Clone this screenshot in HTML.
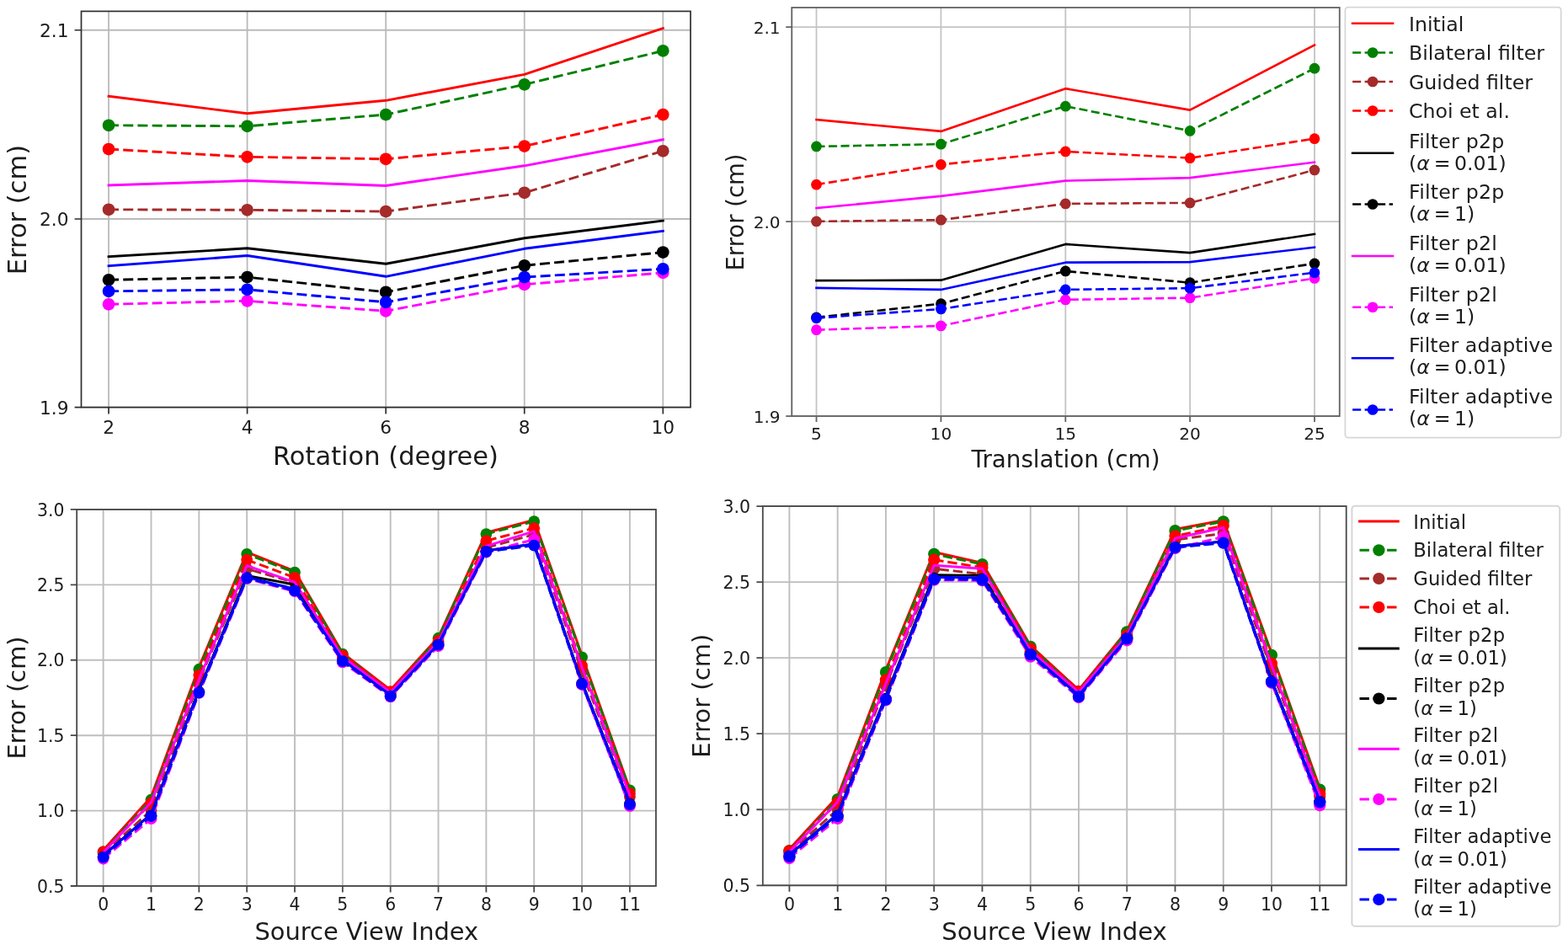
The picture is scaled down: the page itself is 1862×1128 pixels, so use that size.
<!DOCTYPE html>
<html lang="en">
<head>
<meta charset="utf-8">
<title>Error plots</title>
<style>
html,body{margin:0;padding:0;background:#fff;}
body{width:1862px;height:1128px;overflow:hidden;}
svg{display:block;font-family:"DejaVu Sans","Liberation Sans",sans-serif;}
</style>
</head>
<body>
<svg width="1862" height="1128" viewBox="0 0 1862 1128" role="img" aria-label="Error plots for rotation, translation and source view index">
<rect width="1862" height="1128" fill="#fff"/>
<g class="panel">
<path d="M129.05 13.4V483.6M293.6 13.4V483.6M458.2 13.4V483.6M622.75 13.4V483.6M787.3 13.4V483.6M96.5 35.75H820M96.5 260H820M96.5 483.6H820" stroke="#bababa" stroke-width="1.8" fill="none"/>
<path d="M129.05 483.6v7.9M293.6 483.6v7.9M458.2 483.6v7.9M622.75 483.6v7.9M787.3 483.6v7.9M96.5 35.75h-7.9M96.5 260h-7.9M96.5 483.6h-7.9" stroke="#2e2e2e" stroke-width="1.7" fill="none"/>
<g fill="none" stroke-width="2.9" stroke-linejoin="round">
<path d="M129.05 114.3L293.6 134.8L458.2 119.3L622.75 88.3L787.3 33.55" stroke="#ff0000" stroke-linecap="square"/>
<path d="M129.05 148.8L293.6 149.8L458.2 136.05L622.75 100.3L787.3 60.3" stroke="#008000" stroke-dasharray="12 5.2"/>
<g fill="#008000" stroke="none"><circle cx="129.05" cy="148.8" r="7.35"/><circle cx="293.6" cy="149.8" r="7.35"/><circle cx="458.2" cy="136.05" r="7.35"/><circle cx="622.75" cy="100.3" r="7.35"/><circle cx="787.3" cy="60.3" r="7.35"/></g>
<path d="M129.05 248.8L293.6 249.3L458.2 251.05L622.75 228.8L787.3 179.3" stroke="#a52a2a" stroke-dasharray="12 5.2"/>
<g fill="#a52a2a" stroke="none"><circle cx="129.05" cy="248.8" r="7.35"/><circle cx="293.6" cy="249.3" r="7.35"/><circle cx="458.2" cy="251.05" r="7.35"/><circle cx="622.75" cy="228.8" r="7.35"/><circle cx="787.3" cy="179.3" r="7.35"/></g>
<path d="M129.05 177.05L293.6 186.3L458.2 188.8L622.75 173.55L787.3 136.05" stroke="#ff0000" stroke-dasharray="12 5.2"/>
<g fill="#ff0000" stroke="none"><circle cx="129.05" cy="177.05" r="7.35"/><circle cx="293.6" cy="186.3" r="7.35"/><circle cx="458.2" cy="188.8" r="7.35"/><circle cx="622.75" cy="173.55" r="7.35"/><circle cx="787.3" cy="136.05" r="7.35"/></g>
<path d="M129.05 304.8L293.6 294.8L458.2 313.3L622.75 282.8L787.3 262.05" stroke="#000000" stroke-linecap="square"/>
<path d="M129.05 332.3L293.6 329.05L458.2 346.8L622.75 315.3L787.3 299.55" stroke="#000000" stroke-dasharray="12 5.2"/>
<g fill="#000000" stroke="none"><circle cx="129.05" cy="332.3" r="7.35"/><circle cx="293.6" cy="329.05" r="7.35"/><circle cx="458.2" cy="346.8" r="7.35"/><circle cx="622.75" cy="315.3" r="7.35"/><circle cx="787.3" cy="299.55" r="7.35"/></g>
<path d="M129.05 220.05L293.6 214.55L458.2 220.55L622.75 196.8L787.3 165.8" stroke="#ff00ff" stroke-linecap="square"/>
<path d="M129.05 361.3L293.6 357.3L458.2 369.3L622.75 337.8L787.3 323.8" stroke="#ff00ff" stroke-dasharray="12 5.2"/>
<g fill="#ff00ff" stroke="none"><circle cx="129.05" cy="361.3" r="7.35"/><circle cx="293.6" cy="357.3" r="7.35"/><circle cx="458.2" cy="369.3" r="7.35"/><circle cx="622.75" cy="337.8" r="7.35"/><circle cx="787.3" cy="323.8" r="7.35"/></g>
<path d="M129.05 315.8L293.6 303.55L458.2 328.3L622.75 295.3L787.3 274.3" stroke="#0000ff" stroke-linecap="square"/>
<path d="M129.05 345.8L293.6 343.8L458.2 358.8L622.75 329.05L787.3 319.3" stroke="#0000ff" stroke-dasharray="12 5.2"/>
<g fill="#0000ff" stroke="none"><circle cx="129.05" cy="345.8" r="7.35"/><circle cx="293.6" cy="343.8" r="7.35"/><circle cx="458.2" cy="358.8" r="7.35"/><circle cx="622.75" cy="329.05" r="7.35"/><circle cx="787.3" cy="319.3" r="7.35"/></g>
</g>
<rect x="96.5" y="13.4" width="723.5" height="470.2" fill="none" stroke="#2e2e2e" stroke-width="1.7"/>
<g font-size="21.7" fill="#1c1c1c">
<text x="129.05" y="515.4" text-anchor="middle">2</text>
<text x="293.6" y="515.4" text-anchor="middle">4</text>
<text x="458.2" y="515.4" text-anchor="middle">6</text>
<text x="622.75" y="515.4" text-anchor="middle">8</text>
<text x="787.3" y="515.4" text-anchor="middle">10</text>
<text x="81.5" y="43.85" text-anchor="end">2.1</text>
<text x="81.5" y="268.1" text-anchor="end">2.0</text>
<text x="81.5" y="491.7" text-anchor="end">1.9</text>
</g>
<text x="458" y="551.5" font-size="30.5" text-anchor="middle" fill="#1c1c1c">Rotation (degree)</text>
<text transform="translate(31 249.1) rotate(-90)" font-size="30.5" text-anchor="middle" fill="#1c1c1c">Error (cm)</text>
</g>
<g class="panel">
<path d="M969.5 9V494.1M1117.4 9V494.1M1265.3 9V494.1M1413.1 9V494.1M1561 9V494.1M940.25 32.2H1590.75M940.25 263.1H1590.75M940.25 494.1H1590.75" stroke="#c4c4c4" stroke-width="1.8" fill="none"/>
<path d="M969.5 494.1v7M1117.4 494.1v7M1265.3 494.1v7M1413.1 494.1v7M1561 494.1v7M940.25 32.2h-7M940.25 263.1h-7M940.25 494.1h-7" stroke="#626262" stroke-width="1.8" fill="none"/>
<g fill="none" stroke-width="2.6" stroke-linejoin="round">
<path d="M969.5 142.15L1117.4 155.9L1265.3 105.15L1413.1 130.65L1561 53.4" stroke="#ff0000" stroke-linecap="square"/>
<path d="M969.5 173.9L1117.4 171.15L1265.3 126.15L1413.1 155.4L1561 81.15" stroke="#008000" stroke-dasharray="10.1 4.4"/>
<g fill="#008000" stroke="none"><circle cx="969.5" cy="173.9" r="6.35"/><circle cx="1117.4" cy="171.15" r="6.35"/><circle cx="1265.3" cy="126.15" r="6.35"/><circle cx="1413.1" cy="155.4" r="6.35"/><circle cx="1561" cy="81.15" r="6.35"/></g>
<path d="M969.5 262.9L1117.4 261.15L1265.3 241.9L1413.1 240.9L1561 201.9" stroke="#a52a2a" stroke-dasharray="10.1 4.4"/>
<g fill="#a52a2a" stroke="none"><circle cx="969.5" cy="262.9" r="6.35"/><circle cx="1117.4" cy="261.15" r="6.35"/><circle cx="1265.3" cy="241.9" r="6.35"/><circle cx="1413.1" cy="240.9" r="6.35"/><circle cx="1561" cy="201.9" r="6.35"/></g>
<path d="M969.5 219.15L1117.4 195.4L1265.3 179.9L1413.1 187.65L1561 164.65" stroke="#ff0000" stroke-dasharray="10.1 4.4"/>
<g fill="#ff0000" stroke="none"><circle cx="969.5" cy="219.15" r="6.35"/><circle cx="1117.4" cy="195.4" r="6.35"/><circle cx="1265.3" cy="179.9" r="6.35"/><circle cx="1413.1" cy="187.65" r="6.35"/><circle cx="1561" cy="164.65" r="6.35"/></g>
<path d="M969.5 333.15L1117.4 332.65L1265.3 289.9L1413.1 300.15L1561 277.9" stroke="#000000" stroke-linecap="square"/>
<path d="M969.5 376.9L1117.4 360.65L1265.3 321.9L1413.1 335.65L1561 312.9" stroke="#000000" stroke-dasharray="10.1 4.4"/>
<g fill="#000000" stroke="none"><circle cx="969.5" cy="376.9" r="6.35"/><circle cx="1117.4" cy="360.65" r="6.35"/><circle cx="1265.3" cy="321.9" r="6.35"/><circle cx="1413.1" cy="335.65" r="6.35"/><circle cx="1561" cy="312.9" r="6.35"/></g>
<path d="M969.5 247.15L1117.4 232.9L1265.3 214.65L1413.1 211.15L1561 192.65" stroke="#ff00ff" stroke-linecap="square"/>
<path d="M969.5 391.65L1117.4 386.9L1265.3 355.9L1413.1 353.65L1561 330.4" stroke="#ff00ff" stroke-dasharray="10.1 4.4"/>
<g fill="#ff00ff" stroke="none"><circle cx="969.5" cy="391.65" r="6.35"/><circle cx="1117.4" cy="386.9" r="6.35"/><circle cx="1265.3" cy="355.9" r="6.35"/><circle cx="1413.1" cy="353.65" r="6.35"/><circle cx="1561" cy="330.4" r="6.35"/></g>
<path d="M969.5 341.9L1117.4 343.9L1265.3 311.65L1413.1 311.15L1561 293.65" stroke="#0000ff" stroke-linecap="square"/>
<path d="M969.5 377.65L1117.4 366.9L1265.3 343.9L1413.1 342.15L1561 323.65" stroke="#0000ff" stroke-dasharray="10.1 4.4"/>
<g fill="#0000ff" stroke="none"><circle cx="969.5" cy="377.65" r="6.35"/><circle cx="1117.4" cy="366.9" r="6.35"/><circle cx="1265.3" cy="343.9" r="6.35"/><circle cx="1413.1" cy="342.15" r="6.35"/><circle cx="1561" cy="323.65" r="6.35"/></g>
</g>
<rect x="940.25" y="9" width="650.5" height="485.1" fill="none" stroke="#626262" stroke-width="1.8"/>
<g font-size="20.1" fill="#1c1c1c">
<text x="969.5" y="522.4" text-anchor="middle">5</text>
<text x="1117.4" y="522.4" text-anchor="middle">10</text>
<text x="1265.3" y="522.4" text-anchor="middle">15</text>
<text x="1413.1" y="522.4" text-anchor="middle">20</text>
<text x="1561" y="522.4" text-anchor="middle">25</text>
<text x="926.6" y="39.7" text-anchor="end">2.1</text>
<text x="926.6" y="270.6" text-anchor="end">2.0</text>
<text x="926.6" y="501.6" text-anchor="end">1.9</text>
</g>
<text x="1265.5" y="554.8" font-size="27.75" text-anchor="middle" fill="#1c1c1c">Translation (cm)</text>
<text transform="translate(883 252) rotate(-90)" font-size="27.5" text-anchor="middle" fill="#1c1c1c">Error (cm)</text>
</g>
<g class="panel">
<path d="M122.65 604.95V1052M179.49 604.95V1052M236.33 604.95V1052M293.17 604.95V1052M350.01 604.95V1052M406.85 604.95V1052M463.69 604.95V1052M520.53 604.95V1052M577.37 604.95V1052M634.21 604.95V1052M691.05 604.95V1052M747.89 604.95V1052M91.2 1052H778.95M91.2 962.59H778.95M91.2 873.18H778.95M91.2 783.77H778.95M91.2 694.36H778.95M91.2 604.95H778.95" stroke="#bebebe" stroke-width="1.9" fill="none"/>
<path d="M122.65 1052v7.4M179.49 1052v7.4M236.33 1052v7.4M293.17 1052v7.4M350.01 1052v7.4M406.85 1052v7.4M463.69 1052v7.4M520.53 1052v7.4M577.37 1052v7.4M634.21 1052v7.4M691.05 1052v7.4M747.89 1052v7.4M91.2 1052h-7.4M91.2 962.59h-7.4M91.2 873.18h-7.4M91.2 783.77h-7.4M91.2 694.36h-7.4M91.2 604.95h-7.4" stroke="#484848" stroke-width="1.8" fill="none"/>
<g fill="none" stroke-width="2.95" stroke-linejoin="round">
<path d="M122.65 1009.56L179.49 946.12L236.33 792.08L293.17 655.73L350.01 678.07L406.85 775.46L463.69 819.24L520.53 756.69L577.37 632.5L634.21 617.31L691.05 778.14L747.89 937.18" stroke="#ff0000" stroke-linecap="square"/>
<path d="M122.65 1011.34L179.49 949.69L236.33 794.76L293.17 657.87L350.01 679.68L406.85 776.53L463.69 821.92L520.53 757.77L577.37 634.11L634.21 619.1L691.05 780.28L747.89 938.43" stroke="#008000" stroke-dasharray="11.4 4.9"/>
<g fill="#008000" stroke="none"><circle cx="122.65" cy="1011.34" r="6.9"/><circle cx="179.49" cy="949.69" r="6.9"/><circle cx="236.33" cy="794.76" r="6.9"/><circle cx="293.17" cy="657.87" r="6.9"/><circle cx="350.01" cy="679.68" r="6.9"/><circle cx="406.85" cy="776.53" r="6.9"/><circle cx="463.69" cy="821.92" r="6.9"/><circle cx="520.53" cy="757.77" r="6.9"/><circle cx="577.37" cy="634.11" r="6.9"/><circle cx="634.21" cy="619.1" r="6.9"/><circle cx="691.05" cy="780.28" r="6.9"/><circle cx="747.89" cy="938.43" r="6.9"/></g>
<path d="M122.65 1013.13L179.49 962.2L236.33 808.52L293.17 675.39L350.01 691.65L406.85 781.71L463.69 823.71L520.53 762.95L577.37 650.37L634.21 634.64L691.05 797.8L747.89 946.12" stroke="#a52a2a" stroke-dasharray="11.4 4.9"/>
<g fill="#a52a2a" stroke="none"><circle cx="122.65" cy="1013.13" r="6.9"/><circle cx="179.49" cy="962.2" r="6.9"/><circle cx="236.33" cy="808.52" r="6.9"/><circle cx="293.17" cy="675.39" r="6.9"/><circle cx="350.01" cy="691.65" r="6.9"/><circle cx="406.85" cy="781.71" r="6.9"/><circle cx="463.69" cy="823.71" r="6.9"/><circle cx="520.53" cy="762.95" r="6.9"/><circle cx="577.37" cy="650.37" r="6.9"/><circle cx="634.21" cy="634.64" r="6.9"/><circle cx="691.05" cy="797.8" r="6.9"/><circle cx="747.89" cy="946.12" r="6.9"/></g>
<path d="M122.65 1011.52L179.49 953.26L236.33 801.55L293.17 664.66L350.01 685.93L406.85 778.32L463.69 821.21L520.53 760.98L577.37 642.15L634.21 627.14L691.05 790.29L747.89 942.19" stroke="#ff0000" stroke-dasharray="11.4 4.9"/>
<g fill="#ff0000" stroke="none"><circle cx="122.65" cy="1011.52" r="6.9"/><circle cx="179.49" cy="953.26" r="6.9"/><circle cx="236.33" cy="801.55" r="6.9"/><circle cx="293.17" cy="664.66" r="6.9"/><circle cx="350.01" cy="685.93" r="6.9"/><circle cx="406.85" cy="778.32" r="6.9"/><circle cx="463.69" cy="821.21" r="6.9"/><circle cx="520.53" cy="760.98" r="6.9"/><circle cx="577.37" cy="642.15" r="6.9"/><circle cx="634.21" cy="627.14" r="6.9"/><circle cx="691.05" cy="790.29" r="6.9"/><circle cx="747.89" cy="942.19" r="6.9"/></g>
<path d="M122.65 1015.81L179.49 966.49L236.33 818.53L293.17 683.43L350.01 694.15L406.85 783.5L463.69 824.6L520.53 763.84L577.37 653.76L634.21 645.9L691.05 809.95L747.89 953.26" stroke="#000000" stroke-linecap="square"/>
<path d="M122.65 1017.6L179.49 968.63L236.33 821.56L293.17 686.11L350.01 700.4L406.85 785.29L463.69 826.39L520.53 765.63L577.37 654.84L634.21 646.79L691.05 811.56L747.89 954.69" stroke="#000000" stroke-dasharray="11.4 4.9"/>
<g fill="#000000" stroke="none"><circle cx="122.65" cy="1017.6" r="6.9"/><circle cx="179.49" cy="968.63" r="6.9"/><circle cx="236.33" cy="821.56" r="6.9"/><circle cx="293.17" cy="686.11" r="6.9"/><circle cx="350.01" cy="700.4" r="6.9"/><circle cx="406.85" cy="785.29" r="6.9"/><circle cx="463.69" cy="826.39" r="6.9"/><circle cx="520.53" cy="765.63" r="6.9"/><circle cx="577.37" cy="654.84" r="6.9"/><circle cx="634.21" cy="646.79" r="6.9"/><circle cx="691.05" cy="811.56" r="6.9"/><circle cx="747.89" cy="954.69" r="6.9"/></g>
<path d="M122.65 1012.24L179.49 952.73L236.33 806.73L293.17 671.63L350.01 691.47L406.85 779.93L463.69 821.92L520.53 762.06L577.37 648.4L634.21 630.89L691.05 792.43L747.89 944.33" stroke="#ff00ff" stroke-linecap="square"/>
<path d="M122.65 1019.74L179.49 972.21L236.33 822.81L293.17 687L350.01 702.19L406.85 786.36L463.69 827.28L520.53 767.24L577.37 655.73L634.21 640.54L691.05 812.99L747.89 957.2" stroke="#ff00ff" stroke-dasharray="11.4 4.9"/>
<g fill="#ff00ff" stroke="none"><circle cx="122.65" cy="1019.74" r="6.9"/><circle cx="179.49" cy="972.21" r="6.9"/><circle cx="236.33" cy="822.81" r="6.9"/><circle cx="293.17" cy="687" r="6.9"/><circle cx="350.01" cy="702.19" r="6.9"/><circle cx="406.85" cy="786.36" r="6.9"/><circle cx="463.69" cy="827.28" r="6.9"/><circle cx="520.53" cy="767.24" r="6.9"/><circle cx="577.37" cy="655.73" r="6.9"/><circle cx="634.21" cy="640.54" r="6.9"/><circle cx="691.05" cy="812.99" r="6.9"/><circle cx="747.89" cy="957.2" r="6.9"/></g>
<path d="M122.65 1015.81L179.49 966.49L236.33 819.24L293.17 685.22L350.01 699.51L406.85 783.5L463.69 825.49L520.53 764.74L577.37 653.94L634.21 645.9L691.05 809.95L747.89 953.26" stroke="#0000ff" stroke-linecap="square"/>
<path d="M122.65 1017.78L179.49 968.99L236.33 822.28L293.17 686.29L350.01 701.3L406.85 785.11L463.69 826.57L520.53 765.63L577.37 655.01L634.21 647.69L691.05 812.09L747.89 955.23" stroke="#0000ff" stroke-dasharray="11.4 4.9"/>
<g fill="#0000ff" stroke="none"><circle cx="122.65" cy="1017.78" r="6.9"/><circle cx="179.49" cy="968.99" r="6.9"/><circle cx="236.33" cy="822.28" r="6.9"/><circle cx="293.17" cy="686.29" r="6.9"/><circle cx="350.01" cy="701.3" r="6.9"/><circle cx="406.85" cy="785.11" r="6.9"/><circle cx="463.69" cy="826.57" r="6.9"/><circle cx="520.53" cy="765.63" r="6.9"/><circle cx="577.37" cy="655.01" r="6.9"/><circle cx="634.21" cy="647.69" r="6.9"/><circle cx="691.05" cy="812.09" r="6.9"/><circle cx="747.89" cy="955.23" r="6.9"/></g>
</g>
<rect x="91.2" y="604.95" width="687.75" height="447.05" fill="none" stroke="#484848" stroke-width="1.8"/>
<g font-size="20.4" fill="#1c1c1c">
<text x="122.65" y="1081.3" text-anchor="middle">0</text>
<text x="179.49" y="1081.3" text-anchor="middle">1</text>
<text x="236.33" y="1081.3" text-anchor="middle">2</text>
<text x="293.17" y="1081.3" text-anchor="middle">3</text>
<text x="350.01" y="1081.3" text-anchor="middle">4</text>
<text x="406.85" y="1081.3" text-anchor="middle">5</text>
<text x="463.69" y="1081.3" text-anchor="middle">6</text>
<text x="520.53" y="1081.3" text-anchor="middle">7</text>
<text x="577.37" y="1081.3" text-anchor="middle">8</text>
<text x="634.21" y="1081.3" text-anchor="middle">9</text>
<text x="691.05" y="1081.3" text-anchor="middle">10</text>
<text x="747.89" y="1081.3" text-anchor="middle">11</text>
<text x="76.5" y="1059.7" text-anchor="end">0.5</text>
<text x="76.5" y="970.29" text-anchor="end">1.0</text>
<text x="76.5" y="880.88" text-anchor="end">1.5</text>
<text x="76.5" y="791.47" text-anchor="end">2.0</text>
<text x="76.5" y="702.06" text-anchor="end">2.5</text>
<text x="76.5" y="612.65" text-anchor="end">3.0</text>
</g>
<text x="435.3" y="1115.6" font-size="28.9" text-anchor="middle" fill="#1c1c1c">Source View Index</text>
<text transform="translate(30 828.5) rotate(-90)" font-size="28.9" text-anchor="middle" fill="#1c1c1c">Error (cm)</text>
</g>
<g class="panel">
<path d="M937.4 601.05V1051.3M994.66 601.05V1051.3M1051.92 601.05V1051.3M1109.18 601.05V1051.3M1166.44 601.05V1051.3M1223.7 601.05V1051.3M1280.96 601.05V1051.3M1338.22 601.05V1051.3M1395.48 601.05V1051.3M1452.74 601.05V1051.3M1510 601.05V1051.3M1567.26 601.05V1051.3M905.8 1051.3H1598.7M905.8 961.25H1598.7M905.8 871.2H1598.7M905.8 781.15H1598.7M905.8 691.1H1598.7M905.8 601.05H1598.7" stroke="#bebebe" stroke-width="1.9" fill="none"/>
<path d="M937.4 1051.3v7.4M994.66 1051.3v7.4M1051.92 1051.3v7.4M1109.18 1051.3v7.4M1166.44 1051.3v7.4M1223.7 1051.3v7.4M1280.96 1051.3v7.4M1338.22 1051.3v7.4M1395.48 1051.3v7.4M1452.74 1051.3v7.4M1510 1051.3v7.4M1567.26 1051.3v7.4M905.8 1051.3h-7.4M905.8 961.25h-7.4M905.8 871.2h-7.4M905.8 781.15h-7.4M905.8 691.1h-7.4M905.8 601.05h-7.4" stroke="#484848" stroke-width="1.8" fill="none"/>
<g fill="none" stroke-width="2.95" stroke-linejoin="round">
<path d="M937.4 1008.26L994.66 945.87L1051.92 795.37L1109.18 655.49L1166.44 668.44L1223.7 766.61L1280.96 819.11L1338.22 748.99L1395.48 628.52L1452.74 617.73L1510 775.6L1567.26 935.98" stroke="#ff0000" stroke-linecap="square"/>
<path d="M937.4 1010.06L994.66 949.1L1051.92 798.07L1109.18 657.83L1166.44 670.05L1223.7 767.86L1280.96 821.27L1338.22 750.24L1395.48 630.14L1452.74 619.35L1510 777.75L1567.26 937.6" stroke="#008000" stroke-dasharray="11.4 4.9"/>
<g fill="#008000" stroke="none"><circle cx="937.4" cy="1010.06" r="7.1"/><circle cx="994.66" cy="949.1" r="7.1"/><circle cx="1051.92" cy="798.07" r="7.1"/><circle cx="1109.18" cy="657.83" r="7.1"/><circle cx="1166.44" cy="670.05" r="7.1"/><circle cx="1223.7" cy="767.86" r="7.1"/><circle cx="1280.96" cy="821.27" r="7.1"/><circle cx="1338.22" cy="750.24" r="7.1"/><circle cx="1395.48" cy="630.14" r="7.1"/><circle cx="1452.74" cy="619.35" r="7.1"/><circle cx="1510" cy="777.75" r="7.1"/><circle cx="1567.26" cy="937.6" r="7.1"/></g>
<path d="M937.4 1012.39L994.66 961.15L1051.92 814.07L1109.18 675.27L1166.44 681.74L1223.7 774.16L1280.96 823.6L1338.22 756.18L1395.48 640.93L1452.74 633.37L1510 795.91L1567.26 945.87" stroke="#a52a2a" stroke-dasharray="11.4 4.9"/>
<g fill="#a52a2a" stroke="none"><circle cx="937.4" cy="1012.39" r="7.1"/><circle cx="994.66" cy="961.15" r="7.1"/><circle cx="1051.92" cy="814.07" r="7.1"/><circle cx="1109.18" cy="675.27" r="7.1"/><circle cx="1166.44" cy="681.74" r="7.1"/><circle cx="1223.7" cy="774.16" r="7.1"/><circle cx="1280.96" cy="823.6" r="7.1"/><circle cx="1338.22" cy="756.18" r="7.1"/><circle cx="1395.48" cy="640.93" r="7.1"/><circle cx="1452.74" cy="633.37" r="7.1"/><circle cx="1510" cy="795.91" r="7.1"/><circle cx="1567.26" cy="945.87" r="7.1"/></g>
<path d="M937.4 1010.24L994.66 952.88L1051.92 807.24L1109.18 664.66L1166.44 673.83L1223.7 770.38L1280.96 820.91L1338.22 754.02L1395.48 636.61L1452.74 624.02L1510 787.82L1567.26 942.63" stroke="#ff0000" stroke-dasharray="11.4 4.9"/>
<g fill="#ff0000" stroke="none"><circle cx="937.4" cy="1010.24" r="7.1"/><circle cx="994.66" cy="952.88" r="7.1"/><circle cx="1051.92" cy="807.24" r="7.1"/><circle cx="1109.18" cy="664.66" r="7.1"/><circle cx="1166.44" cy="673.83" r="7.1"/><circle cx="1223.7" cy="770.38" r="7.1"/><circle cx="1280.96" cy="820.91" r="7.1"/><circle cx="1338.22" cy="754.02" r="7.1"/><circle cx="1395.48" cy="636.61" r="7.1"/><circle cx="1452.74" cy="624.02" r="7.1"/><circle cx="1510" cy="787.82" r="7.1"/><circle cx="1567.26" cy="942.63" r="7.1"/></g>
<path d="M937.4 1014.91L994.66 966.54L1051.92 826.3L1109.18 682.82L1166.44 683.36L1223.7 775.96L1280.96 824.5L1338.22 756.54L1395.48 648.66L1452.74 642.9L1510 807.6L1567.26 950.72" stroke="#000000" stroke-linecap="square"/>
<path d="M937.4 1016.71L994.66 968.7L1051.92 829.9L1109.18 686.95L1166.44 687.49L1223.7 777.39L1280.96 826.66L1338.22 758.34L1395.48 649.74L1452.74 643.8L1510 809.22L1567.26 952.16" stroke="#000000" stroke-dasharray="11.4 4.9"/>
<g fill="#000000" stroke="none"><circle cx="937.4" cy="1016.71" r="7.1"/><circle cx="994.66" cy="968.7" r="7.1"/><circle cx="1051.92" cy="829.9" r="7.1"/><circle cx="1109.18" cy="686.95" r="7.1"/><circle cx="1166.44" cy="687.49" r="7.1"/><circle cx="1223.7" cy="777.39" r="7.1"/><circle cx="1280.96" cy="826.66" r="7.1"/><circle cx="1338.22" cy="758.34" r="7.1"/><circle cx="1395.48" cy="649.74" r="7.1"/><circle cx="1452.74" cy="643.8" r="7.1"/><circle cx="1510" cy="809.22" r="7.1"/><circle cx="1567.26" cy="952.16" r="7.1"/></g>
<path d="M937.4 1011.49L994.66 952.16L1051.92 811.92L1109.18 671.31L1166.44 675.27L1223.7 772.36L1280.96 821.8L1338.22 754.74L1395.48 639.31L1452.74 626.54L1510 790.34L1567.26 944.07" stroke="#ff00ff" stroke-linecap="square"/>
<path d="M937.4 1019.05L994.66 971.94L1051.92 831.33L1109.18 688.75L1166.44 689.29L1223.7 779.73L1280.96 828.1L1338.22 760.31L1395.48 650.99L1452.74 637.51L1510 810.84L1567.26 956.3" stroke="#ff00ff" stroke-dasharray="11.4 4.9"/>
<g fill="#ff00ff" stroke="none"><circle cx="937.4" cy="1019.05" r="7.1"/><circle cx="994.66" cy="971.94" r="7.1"/><circle cx="1051.92" cy="831.33" r="7.1"/><circle cx="1109.18" cy="688.75" r="7.1"/><circle cx="1166.44" cy="689.29" r="7.1"/><circle cx="1223.7" cy="779.73" r="7.1"/><circle cx="1280.96" cy="828.1" r="7.1"/><circle cx="1338.22" cy="760.31" r="7.1"/><circle cx="1395.48" cy="650.99" r="7.1"/><circle cx="1452.74" cy="637.51" r="7.1"/><circle cx="1510" cy="810.84" r="7.1"/><circle cx="1567.26" cy="956.3" r="7.1"/></g>
<path d="M937.4 1014.91L994.66 966.54L1051.92 827.2L1109.18 685.16L1166.44 686.06L1223.7 775.96L1280.96 825.94L1338.22 757.44L1395.48 648.66L1452.74 642.9L1510 807.6L1567.26 950.72" stroke="#0000ff" stroke-linecap="square"/>
<path d="M937.4 1016.89L994.66 969.06L1051.92 830.62L1109.18 687.85L1166.44 688.39L1223.7 777.21L1280.96 827.2L1338.22 758.34L1395.48 650.1L1452.74 644.7L1510 809.76L1567.26 952.52" stroke="#0000ff" stroke-dasharray="11.4 4.9"/>
<g fill="#0000ff" stroke="none"><circle cx="937.4" cy="1016.89" r="7.1"/><circle cx="994.66" cy="969.06" r="7.1"/><circle cx="1051.92" cy="830.62" r="7.1"/><circle cx="1109.18" cy="687.85" r="7.1"/><circle cx="1166.44" cy="688.39" r="7.1"/><circle cx="1223.7" cy="777.21" r="7.1"/><circle cx="1280.96" cy="827.2" r="7.1"/><circle cx="1338.22" cy="758.34" r="7.1"/><circle cx="1395.48" cy="650.1" r="7.1"/><circle cx="1452.74" cy="644.7" r="7.1"/><circle cx="1510" cy="809.76" r="7.1"/><circle cx="1567.26" cy="952.52" r="7.1"/></g>
</g>
<rect x="905.8" y="601.05" width="692.9" height="450.25" fill="none" stroke="#484848" stroke-width="1.8"/>
<g font-size="20.5" fill="#1c1c1c">
<text x="937.4" y="1080.9" text-anchor="middle">0</text>
<text x="994.66" y="1080.9" text-anchor="middle">1</text>
<text x="1051.92" y="1080.9" text-anchor="middle">2</text>
<text x="1109.18" y="1080.9" text-anchor="middle">3</text>
<text x="1166.44" y="1080.9" text-anchor="middle">4</text>
<text x="1223.7" y="1080.9" text-anchor="middle">5</text>
<text x="1280.96" y="1080.9" text-anchor="middle">6</text>
<text x="1338.22" y="1080.9" text-anchor="middle">7</text>
<text x="1395.48" y="1080.9" text-anchor="middle">8</text>
<text x="1452.74" y="1080.9" text-anchor="middle">9</text>
<text x="1510" y="1080.9" text-anchor="middle">10</text>
<text x="1567.26" y="1080.9" text-anchor="middle">11</text>
<text x="891" y="1058.9" text-anchor="end">0.5</text>
<text x="891" y="968.85" text-anchor="end">1.0</text>
<text x="891" y="878.8" text-anchor="end">1.5</text>
<text x="891" y="788.75" text-anchor="end">2.0</text>
<text x="891" y="698.7" text-anchor="end">2.5</text>
<text x="891" y="608.65" text-anchor="end">3.0</text>
</g>
<text x="1252" y="1115.6" font-size="29.1" text-anchor="middle" fill="#1c1c1c">Source View Index</text>
<text transform="translate(843.3 826.2) rotate(-90)" font-size="29.1" text-anchor="middle" fill="#1c1c1c">Error (cm)</text>
</g>
<g class="legend" fill="#1c1c1c">
<rect x="1597.4" y="8.7" width="256.3" height="510.9" rx="3.5" fill="#fff" fill-opacity="0.8" stroke="#cccccc" stroke-opacity="0.8" stroke-width="1.8"/>
<path d="M1606.1 27.75H1654" stroke="#ff0000" stroke-width="2.6" stroke-linecap="square" fill="none"/>
<text x="1673" y="36.9" font-size="23.65">Initial</text>
<path d="M1606.1 62.5H1654" stroke="#008000" stroke-width="2.6" stroke-dasharray="10.1 4.4" fill="none"/>
<circle cx="1630.05" cy="62.5" r="6.35" fill="#008000"/>
<text x="1673" y="71.1" font-size="23.65">Bilateral filter</text>
<path d="M1606.1 97H1654" stroke="#a52a2a" stroke-width="2.6" stroke-dasharray="10.1 4.4" fill="none"/>
<circle cx="1630.05" cy="97" r="6.35" fill="#a52a2a"/>
<text x="1673" y="105.5" font-size="23.65">Guided filter</text>
<path d="M1606.1 131.5H1654" stroke="#ff0000" stroke-width="2.6" stroke-dasharray="10.1 4.4" fill="none"/>
<circle cx="1630.05" cy="131.5" r="6.35" fill="#ff0000"/>
<text x="1673" y="140.1" font-size="23.65">Choi et al.</text>
<path d="M1606.1 181.75H1654" stroke="#000000" stroke-width="2.6" stroke-linecap="square" fill="none"/>
<text x="1673" y="175.95" font-size="23.65" letter-spacing="0.25">Filter p2p</text>
<text x="1673" y="201.9" font-size="23.65">(<tspan font-style="italic">α</tspan><tspan dx="4.85">=</tspan><tspan dx="4.42">0.01)</tspan></text>
<path d="M1606.1 242.5H1654" stroke="#000000" stroke-width="2.6" stroke-dasharray="10.1 4.4" fill="none"/>
<circle cx="1630.05" cy="242.5" r="6.35" fill="#000000"/>
<text x="1673" y="235.55" font-size="23.65" letter-spacing="0.25">Filter p2p</text>
<text x="1673" y="261.5" font-size="23.65">(<tspan font-style="italic">α</tspan><tspan dx="4.85">=</tspan><tspan dx="4.42">1)</tspan></text>
<path d="M1606.1 304H1654" stroke="#ff00ff" stroke-width="2.6" stroke-linecap="square" fill="none"/>
<text x="1673" y="296.6" font-size="23.65" letter-spacing="0.25">Filter p2l</text>
<text x="1673" y="322.5" font-size="23.65">(<tspan font-style="italic">α</tspan><tspan dx="4.85">=</tspan><tspan dx="4.42">0.01)</tspan></text>
<path d="M1606.1 364.75H1654" stroke="#ff00ff" stroke-width="2.6" stroke-dasharray="10.1 4.4" fill="none"/>
<circle cx="1630.05" cy="364.75" r="6.35" fill="#ff00ff"/>
<text x="1673" y="357.8" font-size="23.65" letter-spacing="0.25">Filter p2l</text>
<text x="1673" y="384" font-size="23.65">(<tspan font-style="italic">α</tspan><tspan dx="4.85">=</tspan><tspan dx="4.42">1)</tspan></text>
<path d="M1606.1 425.25H1654" stroke="#0000ff" stroke-width="2.6" stroke-linecap="square" fill="none"/>
<text x="1673" y="418.4" font-size="23.65" letter-spacing="0.11">Filter adaptive</text>
<text x="1673" y="444.3" font-size="23.65">(<tspan font-style="italic">α</tspan><tspan dx="4.85">=</tspan><tspan dx="4.42">0.01)</tspan></text>
<path d="M1606.1 486.5H1654" stroke="#0000ff" stroke-width="2.6" stroke-dasharray="10.1 4.4" fill="none"/>
<circle cx="1630.05" cy="486.5" r="6.35" fill="#0000ff"/>
<text x="1673" y="479.4" font-size="23.65" letter-spacing="0.11">Filter adaptive</text>
<text x="1673" y="505.3" font-size="23.65">(<tspan font-style="italic">α</tspan><tspan dx="4.85">=</tspan><tspan dx="4.42">1)</tspan></text>
</g>
<g class="legend" fill="#1c1c1c">
<rect x="1605.4" y="600.85" width="246.8" height="498.8" rx="3.5" fill="#fff" fill-opacity="0.8" stroke="#cccccc" stroke-opacity="0.8" stroke-width="2"/>
<path d="M1614.5 619H1660.3" stroke="#ff0000" stroke-width="2.95" stroke-linecap="square" fill="none"/>
<text x="1678.3" y="627.7" font-size="22.7">Initial</text>
<path d="M1614.5 653.3H1660.3" stroke="#008000" stroke-width="2.95" stroke-dasharray="11.4 4.9" fill="none"/>
<circle cx="1637.4" cy="653.3" r="7.1" fill="#008000"/>
<text x="1678.3" y="661.1" font-size="22.7">Bilateral filter</text>
<path d="M1614.5 687H1660.3" stroke="#a52a2a" stroke-width="2.95" stroke-dasharray="11.4 4.9" fill="none"/>
<circle cx="1637.4" cy="687" r="7.1" fill="#a52a2a"/>
<text x="1678.3" y="694.7" font-size="22.7">Guided filter</text>
<path d="M1614.5 721H1660.3" stroke="#ff0000" stroke-width="2.95" stroke-dasharray="11.4 4.9" fill="none"/>
<circle cx="1637.4" cy="721" r="7.1" fill="#ff0000"/>
<text x="1678.3" y="728.6" font-size="22.7">Choi et al.</text>
<path d="M1614.5 770H1660.3" stroke="#000000" stroke-width="2.95" stroke-linecap="square" fill="none"/>
<text x="1678.3" y="762.1" font-size="22.7" letter-spacing="0.25">Filter p2p</text>
<text x="1678.3" y="789" font-size="22.7">(<tspan font-style="italic">α</tspan><tspan dx="5.04">=</tspan><tspan dx="4.36">0.01)</tspan></text>
<path d="M1614.5 829.5H1660.3" stroke="#000000" stroke-width="2.95" stroke-dasharray="11.4 4.9" fill="none"/>
<circle cx="1637.4" cy="829.5" r="7.1" fill="#000000"/>
<text x="1678.3" y="821.8" font-size="22.7" letter-spacing="0.25">Filter p2p</text>
<text x="1678.3" y="848.6" font-size="22.7">(<tspan font-style="italic">α</tspan><tspan dx="5.04">=</tspan><tspan dx="4.36">1)</tspan></text>
<path d="M1614.5 889.2H1660.3" stroke="#ff00ff" stroke-width="2.95" stroke-linecap="square" fill="none"/>
<text x="1678.3" y="881" font-size="22.7" letter-spacing="0.25">Filter p2l</text>
<text x="1678.3" y="908.1" font-size="22.7">(<tspan font-style="italic">α</tspan><tspan dx="5.04">=</tspan><tspan dx="4.36">0.01)</tspan></text>
<path d="M1614.5 949H1660.3" stroke="#ff00ff" stroke-width="2.95" stroke-dasharray="11.4 4.9" fill="none"/>
<circle cx="1637.4" cy="949" r="7.1" fill="#ff00ff"/>
<text x="1678.3" y="940.9" font-size="22.7" letter-spacing="0.25">Filter p2l</text>
<text x="1678.3" y="967.8" font-size="22.7">(<tspan font-style="italic">α</tspan><tspan dx="5.04">=</tspan><tspan dx="4.36">1)</tspan></text>
<path d="M1614.5 1008.5H1660.3" stroke="#0000ff" stroke-width="2.95" stroke-linecap="square" fill="none"/>
<text x="1678.3" y="1000.9" font-size="22.7" letter-spacing="0.11">Filter adaptive</text>
<text x="1678.3" y="1027.7" font-size="22.7">(<tspan font-style="italic">α</tspan><tspan dx="5.04">=</tspan><tspan dx="4.36">0.01)</tspan></text>
<path d="M1614.5 1068H1660.3" stroke="#0000ff" stroke-width="2.95" stroke-dasharray="11.4 4.9" fill="none"/>
<circle cx="1637.4" cy="1068" r="7.1" fill="#0000ff"/>
<text x="1678.3" y="1060.5" font-size="22.7" letter-spacing="0.11">Filter adaptive</text>
<text x="1678.3" y="1087.2" font-size="22.7">(<tspan font-style="italic">α</tspan><tspan dx="5.04">=</tspan><tspan dx="4.36">1)</tspan></text>
</g>
</svg>
</body>
</html>
